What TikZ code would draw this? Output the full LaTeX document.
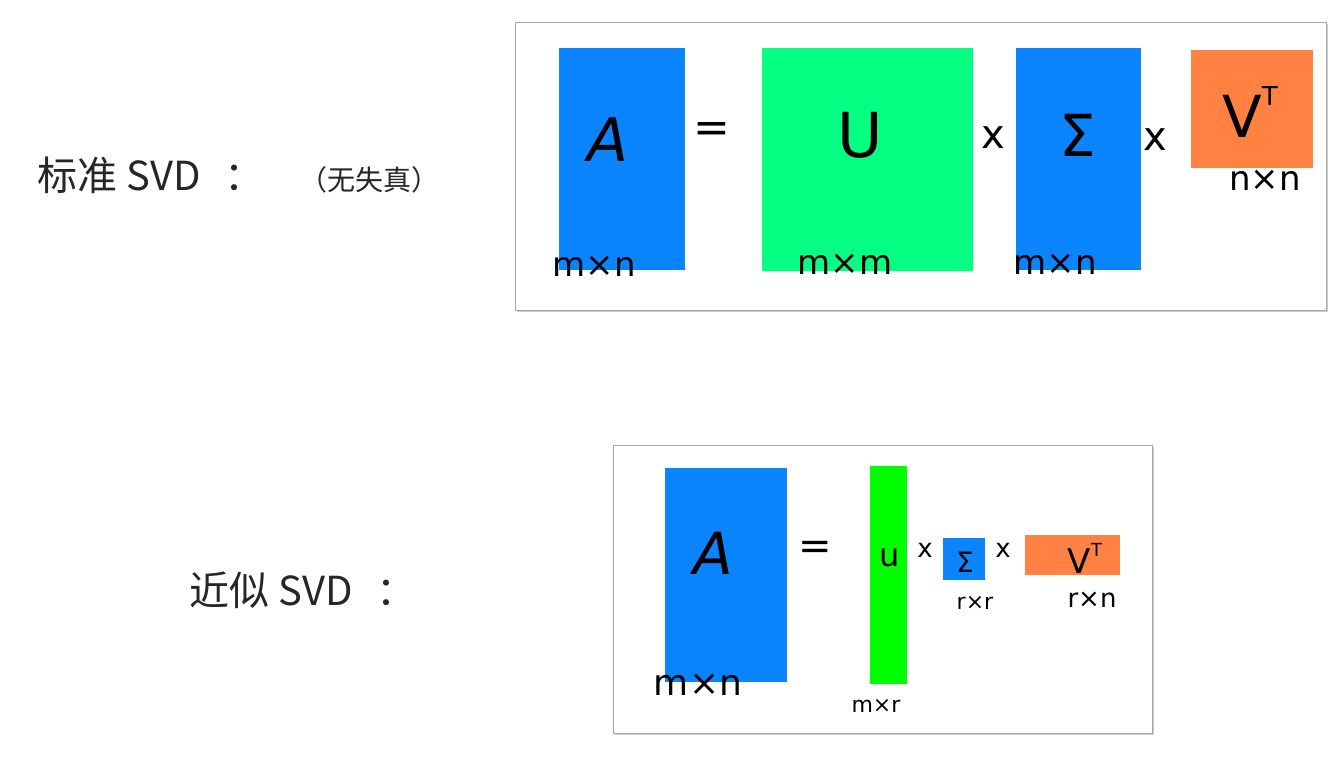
\documentclass[tikz,border=0pt]{standalone}
\usepackage{fontspec}
\setmainfont{Noto Sans CJK SC}
\newfontfamily\hand{DejaVu Sans}
\usetikzlibrary{shadows}
\definecolor{mblue}{HTML}{0A84FF}
\definecolor{mgreen}{HTML}{05FF82}
\definecolor{lgreen}{HTML}{00FF00}
\definecolor{morange}{HTML}{FF8243}
\tikzset{
 panel/.style={draw=gray!70,fill=white,line width=0.8pt,drop shadow={shadow xshift=2pt,shadow yshift=-2pt,opacity=0.4}},
 hw/.style={font=\hand\fontsize{34}{34}\selectfont},
 hws/.style={font=\hand\fontsize{22}{22}\selectfont},
 lbl/.style={font=\fontsize{40}{40}\selectfont,text=black!85}
}
\newcommand{\hf}[1]{\hand\fontsize{#1}{#1}\selectfont}
\begin{document}
\begin{tikzpicture}[x=1pt,y=-1pt]
\useasboundingbox (0,0) rectangle (1334,760);
% top
\node[lbl,anchor=west] (t1) at (34,175) {标准 SVD\hspace{0.6em}：};
\node[anchor=west,font=\fontsize{28}{28}\selectfont,text=black!85] (t2) at (296,180) {（无失真）};
\node[panel,minimum width=811pt,minimum height=288pt,anchor=north west] (p1) at (515,22) {};
\fill[mblue] (559,48) rectangle (685,270);
\fill[mgreen] (762,48) rectangle (973,271);
\fill[mblue] (1016,48) rectangle (1141,270);
\fill[morange] (1191,50) rectangle (1313,168);
\node[font=\hf{60}\itshape] (a1) at (608,140) {A};
\node[font=\hf{44}] (e1) at (712,133) {=};
\node[font=\hf{62}] (u1) at (860,135) {U};
\node[font=\hf{40}] (x1) at (993,138) {x};
\node[font=\hf{58}] (s1) at (1078,135) {Σ};
\node[font=\hf{40}] (x2) at (1155,140) {x};
\node[font=\hf{58}] (v1) at (1250,112) {V\raisebox{0.55em}{\hf{26}T}};
\node[hw] (d1) at (594,266) {m×n};
\node[hw] (d2) at (845,264) {m×m};
\node[hw] (d3) at (1055,264) {m×n};
\node[hw] (d4) at (1265,180) {n×n};
% bottom
\node[lbl,anchor=west] (b1) at (186,590) {近似 SVD\hspace{0.6em}：};
\node[panel,minimum width=539pt,minimum height=288pt,anchor=north west] (p2) at (613,445) {};
\fill[mblue] (665,468) rectangle (787,682);
\fill[lgreen] (870,466) rectangle (907,684);
\fill[mblue] (943,538) rectangle (985,580);
\fill[morange] (1025,535) rectangle (1120,575);
\node[font=\hf{58}\itshape] (a2) at (713,553) {A};
\node[font=\hf{40}] (e2) at (815,550) {=};
\node[font=\hf{32}] (u2) at (890,558) {u};
\node[font=\hf{26}] (x3) at (925,550) {x};
\node[font=\hf{28}] (s2) at (965,562) {Σ};
\node[font=\hf{26}] (x4) at (1003,550) {x};
\node[font=\hf{34}] (v2) at (1085,558) {V\raisebox{0.5em}{\hf{18}T}};
\node[hws] (d5) at (975,603) {r×r};
\node[hws,font=\hf{26}] (d6) at (1092,600) {r×n};
\node[font=\hf{36}] (d7) at (698,685) {m×n};
\node[hws] (d8) at (876,706) {m×r};
\end{tikzpicture}
\end{document}
